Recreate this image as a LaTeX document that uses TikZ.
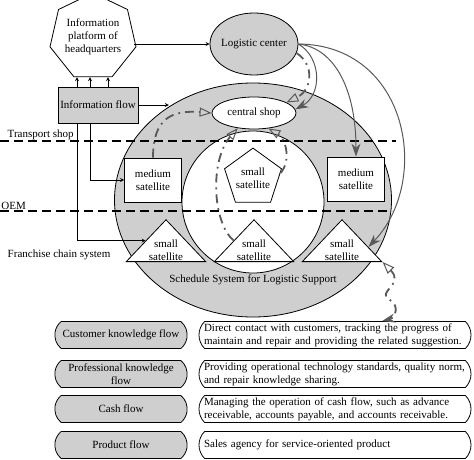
\documentclass[tikz,border=0pt]{standalone}
\usepackage{fontspec}
\setmainfont{Liberation Serif}
\usetikzlibrary{shapes.geometric,shapes.misc,arrows.meta,calc}
\definecolor{lgray}{gray}{0.81}
\definecolor{agray}{gray}{0.35}
\begin{document}
\begin{tikzpicture}[>=stealth, x=1pt, y=-1pt, line width=0.8pt,
  every node/.style={font=\fontsize{11}{13}\selectfont, align=center},
  sbox/.style={draw, fill=white, minimum width=57pt, minimum height=44pt, inner sep=1pt},
  strg/.style={draw, fill=white, isosceles triangle, isosceles triangle apex angle=87,
    shape border rotate=90, inner sep=1pt, anchor=lower side},
  flowbox/.style={draw, fill=lgray, rounded rectangle, rounded rectangle arc length=100,
    minimum width=139pt, minimum height=27pt, inner ysep=1pt},
  notebox/.style={draw, fill=white, rounded rectangle, rounded rectangle arc length=90,
    minimum width=276pt, minimum height=27pt, inner ysep=1pt, inner xsep=2pt,
    text width=262pt, align=left},
  feed/.style={agray, line width=1.8pt, dash pattern=on 9pt off 5pt on 1.8pt off 5pt,
    -{Triangle[open,length=12pt,width=9pt,line width=1pt]}},
  supply/.style={agray, line width=1pt, -{Stealth[length=13pt,width=9pt]}}]
                \useasboundingbox (0,0) rectangle (474,460);
                \node[draw, fill=lgray, ellipse, minimum width=277pt, minimum height=234pt] (ring) at (253,200) {};
                \node[draw, fill=white, circle, minimum size=142pt] (inner) at (253,202) {};
                \draw[line width=1.1pt, dash pattern=on 9pt off 5pt] (0,141) -- (396,141);
                \draw[line width=1.1pt, dash pattern=on 9pt off 5pt] (0,211) -- (392,211);
                \node[anchor=base west] (tsLbl) at (4,137) {Transport shop};
                \node[anchor=base west, inner sep=0pt] (oemLbl) at (1,209) {OEM};
                \node[anchor=base west] (fcsLbl) at (4,257) {Franchise chain system};
                \node[draw, regular polygon, regular polygon sides=7, minimum size=74pt, inner sep=0pt] (hq) at (93,37) {Information\\platform of\\headquarters};
                \node[draw, fill=lgray, ellipse, minimum width=88pt, minimum height=62pt, inner sep=0pt, inner xsep=-2pt] (logi) at (254,44) {Logistic center};
                \node[draw, fill=lgray, minimum width=80pt, minimum height=36pt, inner xsep=2pt] (info) at (98,105) {Information flow};
                \node[draw, fill=white, ellipse, minimum width=84pt, minimum height=32pt, inner sep=0pt] (shop) at (254,113) {central shop};
                \node[sbox] (msL) at (153,180) {medium\\satellite};
                \node[sbox] (msR) at (356,179) {medium\\satellite};
                \node[draw, fill=white, regular polygon, regular polygon sides=5, minimum size=52pt, inner sep=0pt] (ssP) at (253,178) {small\\satellite};
                \node[strg] (ssL) at (166,262) {small\\satellite};
                \node[strg] (ssM) at (254,262) {small\\satellite};
                \node[strg] (ssR) at (342,262) {small\\satellite};
                \node (sched) at (253,280) {Schedule System for Logistic Support};
                \node[flowbox] (ckf) at (121,335) {Customer knowledge flow};
                \node[notebox] (ckfN) at (335,335) {Direct contact with customers, tracking the progress of\\maintain and repair and providing the related suggestion.};
                \node[flowbox] (pkf) at (121,374) {Professional knowledge\\flow};
                \node[notebox] (pkfN) at (335,374) {Providing operational technology standards, quality norm,\\and repair knowledge sharing.};
                \node[flowbox] (cf) at (121,409) {Cash flow};
                \node[notebox] (cfN) at (335,409) {Managing the operation of cash flow, such as advance\\receivable, accounts payable, and accounts receivable.};
                \node[flowbox] (pf) at (121,445) {Product flow};
                \node[notebox] (pfN) at (335,445) {Sales agency for service-oriented product};
                \draw[->] ([xshift=-21pt]info.north) -- ([xshift=-21pt]info.north |- hq.south);
                \draw[->] ([xshift=-8pt]info.north) -- ([xshift=-8pt]info.north |- hq.south);
                \draw[->] ([xshift=10pt]info.north) -- ([xshift=10pt]info.north |- hq.south);
                \draw[->] (hq.east |- logi.west) -- (logi.west);
                \draw[->] (info.east) -- (info.east -| ring.132);
                \draw[->] ([xshift=-21pt]info.south) |- ($(ssL.apex)!0.5!(ssL.left corner)$);
                \draw[->] ([xshift=-8pt]info.south) |- (msL.west);
                \draw[supply] (logi.east) .. controls (322,58) and (322,95) .. (shop.5);
                \draw[supply] (logi.east) .. controls (335,48) and (356,90) .. (msR.north);
                \draw[supply] (logi.east) .. controls (408,45) and (432,180) .. ($(ssR.apex)!0.65!(ssR.right corner)$);
                \draw[feed] (logi.-12) .. controls (315,65) and (312,90) .. (shop.18);
                \draw[feed] (msL.north) .. controls (153,118) and (172,110) .. (shop.west);
                \draw[feed] ($(ssM.apex)!0.5!(ssM.left corner)$) .. controls (212,222) and (210,160) .. (shop.223);
                \draw[feed] (ssP.10) .. controls (292,160) and (285,138) .. (shop.313);
                \draw[feed, {Triangle[open,length=12pt,width=9pt,line width=1pt]}-{Stealth[length=13pt,width=9pt]}] (ssR.right corner) .. controls (405,285) and (375,292) .. (390,300) .. controls (400,306) and (395,318) .. ([xshift=47pt]ckfN.north);
            \end{tikzpicture}
\end{document}
